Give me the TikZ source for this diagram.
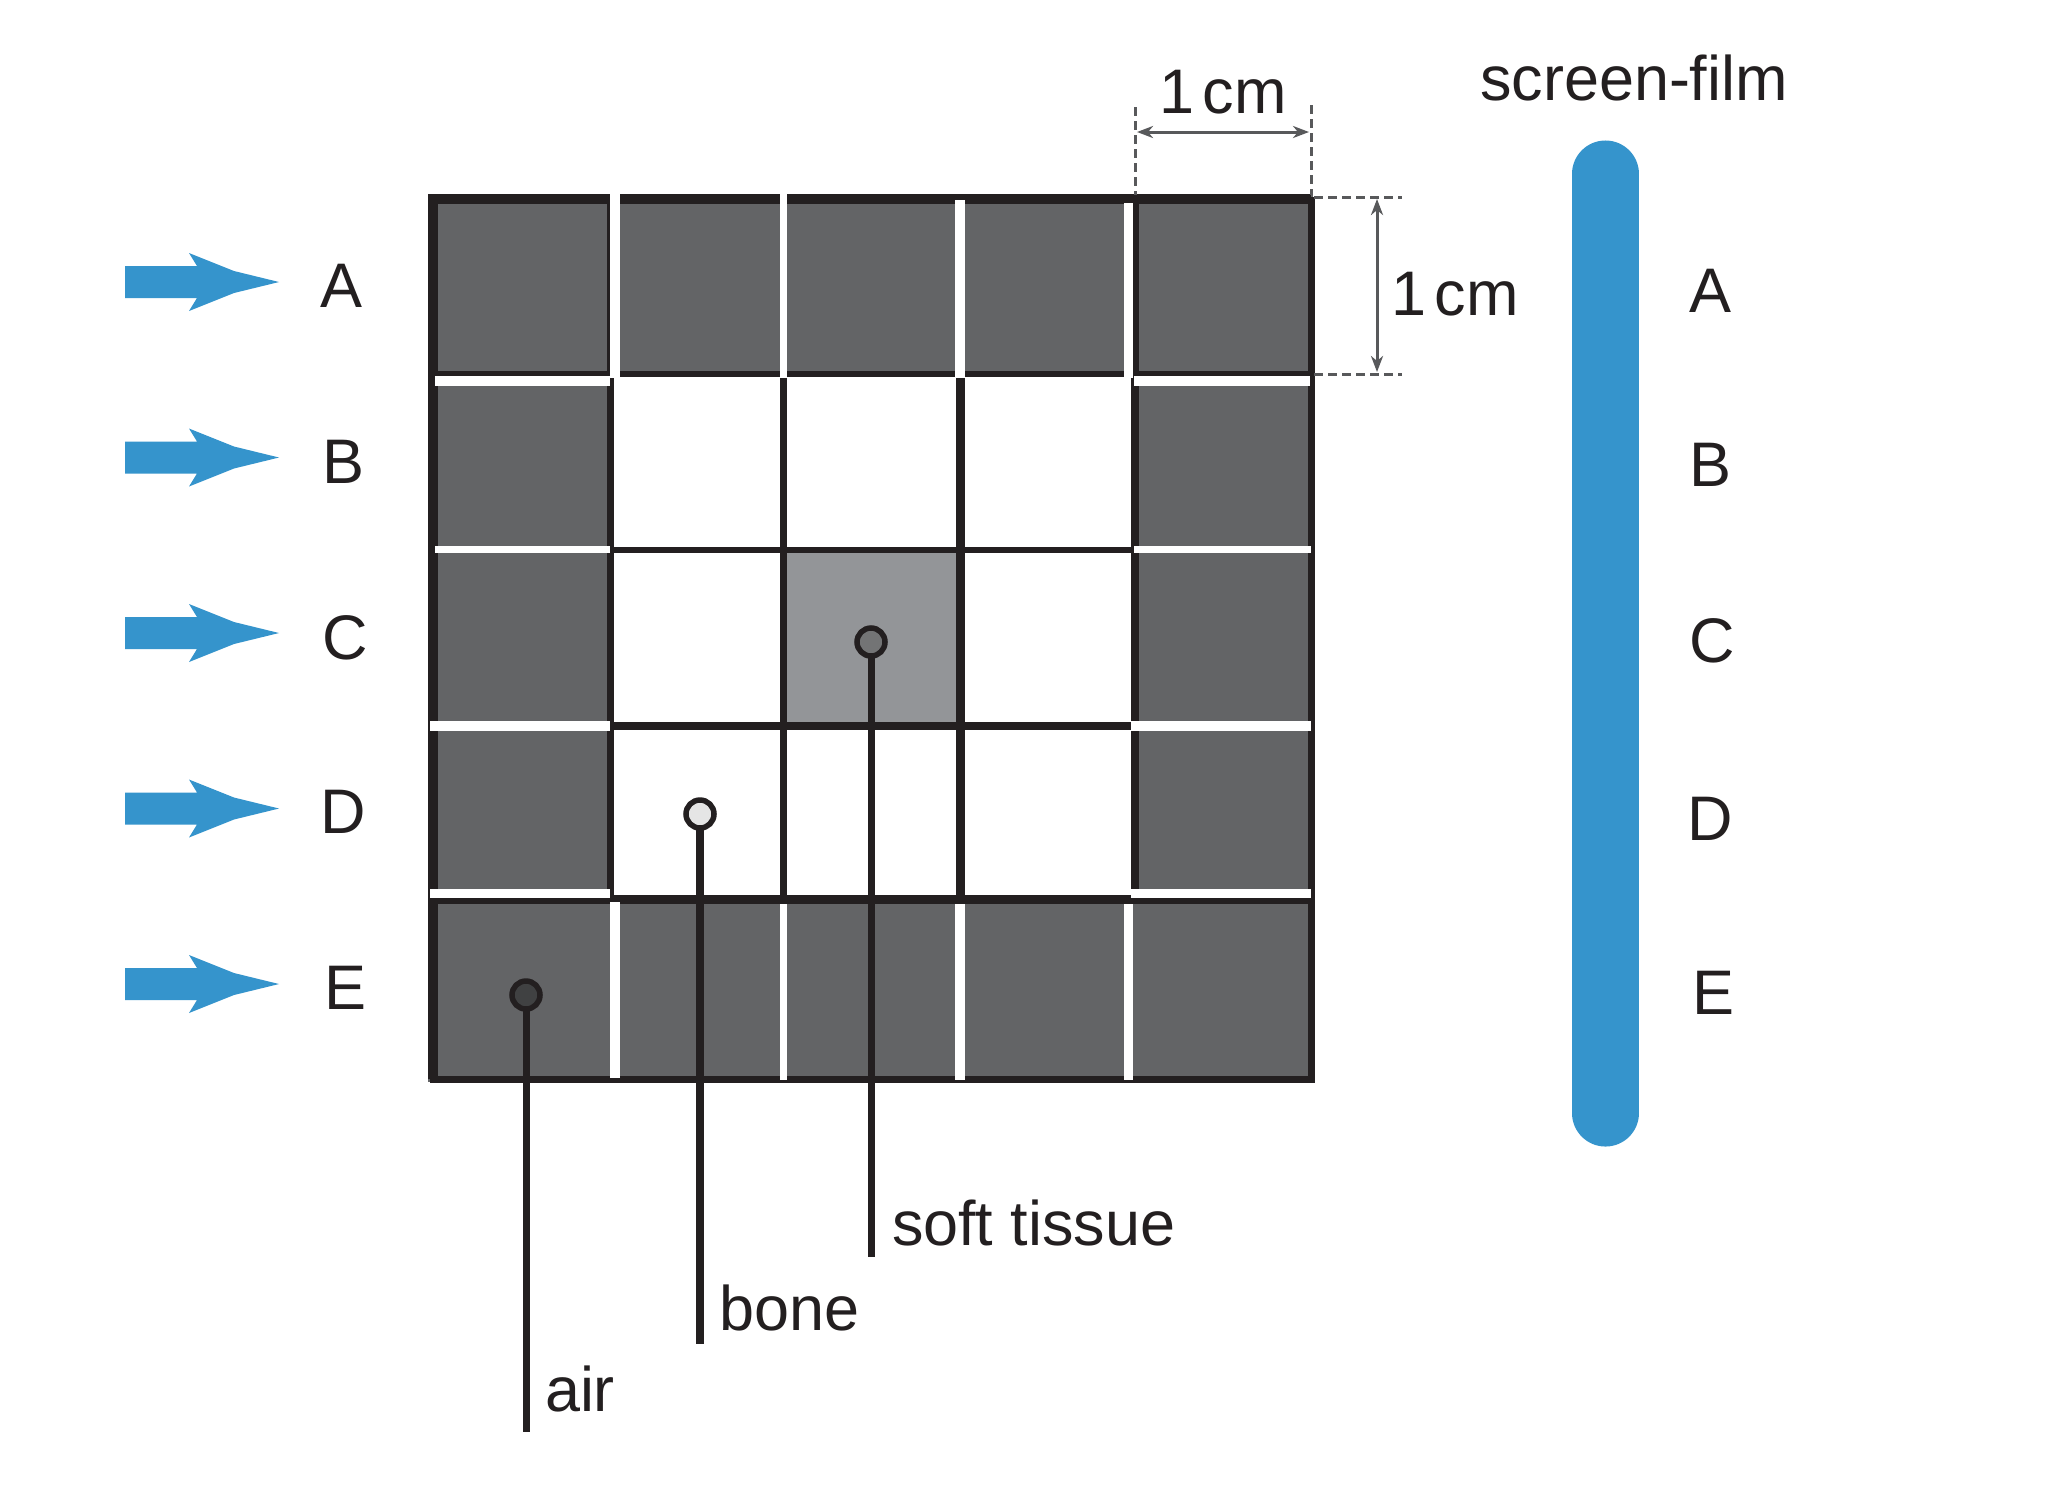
\documentclass[tikz,border=0pt]{standalone}
\usepackage{fontspec}
\setmainfont{Liberation Sans}
\usetikzlibrary{arrows.meta}
\definecolor{ink}{HTML}{231F20}
\definecolor{cellDark}{HTML}{636466}
\definecolor{cellMid}{HTML}{939598}
\definecolor{beam}{HTML}{3594CC}
\definecolor{dimc}{HTML}{58595B}
\tikzset{
  x=0.01cm,y=-0.01cm,
  lab/.style={inner sep=0pt,outer sep=0pt,text=ink,font=\fontsize{17.9}{20}\selectfont},
  mark node/.style={circle,draw=ink,line width=0.055cm,minimum size=0.28cm,inner sep=0pt,outer sep=0pt},
  leader/.style={draw=ink,line width=0.07cm},
  wbar/.style={draw=white,line width=0.095cm},
  dbar/.style={draw=ink,line width=0.07cm},
  dimdash/.style={draw=dimc,line width=0.03cm,dash pattern=on 0.09cm off 0.05cm},
  dimarrow/.style={draw=dimc,line width=0.03cm,{Stealth[length=0.16cm,width=0.12cm,inset=0.05cm]}-{Stealth[length=0.16cm,width=0.12cm,inset=0.05cm]}},
  beamarrow/.pic={\fill[beam] (125,-16) -- (197,-16) -- (189,-29) -- (234,-11) -- (279,0)
     -- (234,11) -- (189,29) -- (197,16) -- (125,16) -- cycle;},
}
\newcommand{\tightcm}{{\spaceskip=0.14em 1 cm}}
\begin{document}
\begin{tikzpicture}
\useasboundingbox[fill=white] (0,0) rectangle (2046,1499);
% square
\fill[cellDark] (428,195) rectangle (1313,1082);
\fill[white] (610,376) rectangle (1134,899);
\fill[cellMid] (783,549) rectangle (960,725);
% dark cell lines
\draw[dbar,line width=0.06cm] (428,374) -- (1313,374);
\draw[dbar,line width=0.06cm] (610,549.5) -- (1134,549.5);
\draw[dbar,line width=0.08cm] (610,725.5) -- (1134,725.5);
\draw[dbar,line width=0.09cm] (428,899.5) -- (1313,899.5);
\draw[dbar] (610,374) -- (610,899);
\draw[dbar] (783,376) -- (783,899);
\draw[dbar,line width=0.09cm] (960,376) -- (960,899);
\draw[dbar,line width=0.08cm] (1134.5,196) -- (1134.5,899);
\draw[dbar] (610,196) -- (610,374);
% outer border
\draw[ink,line width=0.1cm] (433,1079) -- (433,199) -- (1311,199);
\draw[ink,line width=0.07cm] (1311,197) -- (1311,1079) -- (430,1079);
% white separators
\draw[wbar] (615,194) -- (615,378);
\draw[wbar,line width=0.07cm] (783,194) -- (783,378);
\draw[wbar] (960,200) -- (960,378);
\draw[wbar] (1128.5,203) -- (1128.5,378);
\draw[wbar] (615,902) -- (615,1078);
\draw[wbar,line width=0.07cm] (783,904) -- (783,1080);
\draw[wbar] (960,904) -- (960,1080);
\draw[wbar] (1128.5,904) -- (1128.5,1080);
\draw[wbar,line width=0.1cm] (435,381) -- (610,381);
\draw[wbar,line width=0.1cm] (1134,381) -- (1310,381);
\draw[wbar,line width=0.075cm] (435,549.5) -- (610,549.5);
\draw[wbar,line width=0.075cm] (1134,549.5) -- (1311,549.5);
\draw[wbar,line width=0.1cm] (430,725.5) -- (610,725.5);
\draw[wbar,line width=0.1cm] (1131,725.5) -- (1311,725.5);
\draw[wbar,line width=0.085cm] (430,893.5) -- (610,893.5);
\draw[wbar,line width=0.085cm] (1131,893.5) -- (1311,893.5);
% markers and leaders
\coordinate (eAir) at (526,1432);
\coordinate (eBone) at (700,1344);
\coordinate (eSoft) at (871,1257);
\node[mark node,fill=black!35!cellDark] (mAir) at (526,995) {};
\node[mark node,fill=black!10!white] (mBone) at (700,814) {};
\node[mark node,fill=cellDark!90!white] (mSoft) at (871,642) {};
\draw[leader] (mAir.south) -- (eAir);
\draw[leader,line width=0.085cm] (mBone.south) -- (eBone);
\draw[leader] (mSoft.south) -- (eSoft);
\node[lab,anchor=base west] (tAir) at (545,1411) {air};
\node[lab,anchor=base west] (tBone) at (719,1330) {bone};
\node[lab,anchor=base west] (tSoft) at (892,1245) {soft tissue};
% beams and left labels
\foreach \yy in {282,457.5,633,808.5,984} \pic at (0,\yy) {beamarrow};
\node[lab,anchor=base] (lA) at (341,307) {A};
\node[lab,anchor=base] (lB) at (343,483) {B};
\node[lab,anchor=base] (lC) at (345,659) {C};
\node[lab,anchor=base] (lD) at (343,833) {D};
\node[lab,anchor=base] (lE) at (345,1009) {E};
% film
\draw[beam,line width=0.67cm,line cap=round] (1605.5,174) -- (1605.5,1113);
\node[lab,anchor=base] (film) at (1634,100) {screen-film};
\node[lab,anchor=base] (rA) at (1710,312) {A};
\node[lab,anchor=base] (rB) at (1710,486) {B};
\node[lab,anchor=base] (rC) at (1712,662) {C};
\node[lab,anchor=base] (rD) at (1710,840) {D};
\node[lab,anchor=base] (rE) at (1713,1014) {E};
% dimensions
\coordinate (d1a) at (1135,107); \coordinate (d1b) at (1135,195);
\coordinate (d2a) at (1311,105); \coordinate (d2b) at (1311,195);
\coordinate (d3a) at (1137,132); \coordinate (d3b) at (1309,132);
\draw[dimdash] (d1a) -- (d1b);
\draw[dimdash] (d2a) -- (d2b);
\draw[dimarrow] (d3a) -- (d3b);
\node[lab,anchor=base] (t1) at (1223,113) {\tightcm};
\coordinate (d4a) at (1314,197); \coordinate (d4b) at (1402,197);
\coordinate (d5a) at (1314,374); \coordinate (d5b) at (1402,374);
\coordinate (d6a) at (1377,199); \coordinate (d6b) at (1377,372);
\draw[dimdash] (d4a) -- (d4b);
\draw[dimdash] (d5a) -- (d5b);
\draw[dimarrow] (d6a) -- (d6b);
\node[lab,anchor=base] (t2) at (1455,315) {\tightcm};
\end{tikzpicture}
\end{document}
